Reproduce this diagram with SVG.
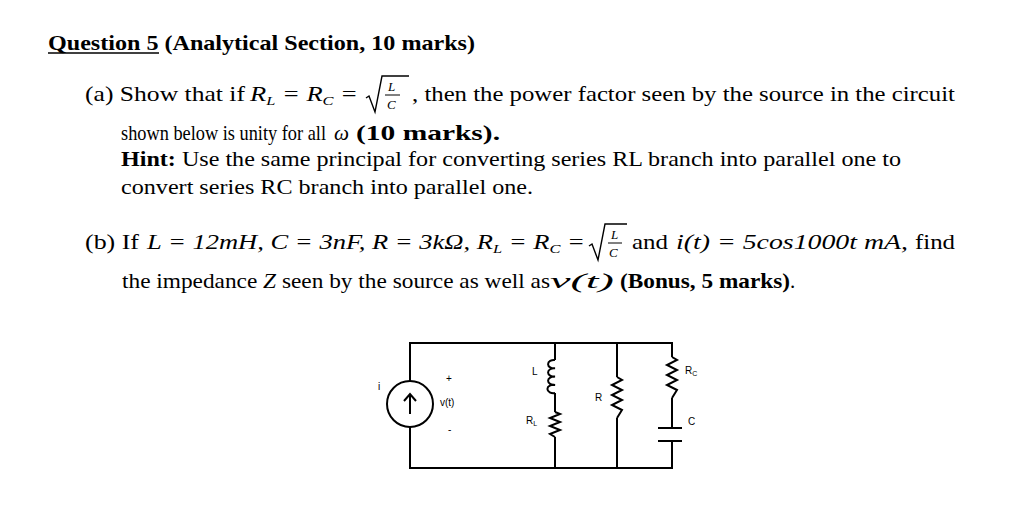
<svg xmlns="http://www.w3.org/2000/svg" width="1024" height="512" viewBox="0 0 1024 512">
<style>
text{font-family:"Liberation Serif","Times New Roman",serif;font-size:21px;fill:#000}
.b{font-weight:bold}
.i{font-style:italic}
.m{font-family:"Liberation Serif",serif;font-style:italic;font-size:21px}
.sm{font-size:13px}
.lab{font-family:"Liberation Sans",Arial,sans-serif;font-size:10px}
.w{fill:none;stroke:#000;stroke-width:2}
.s{fill:none;stroke:#000;stroke-width:1.4}
</style>
<rect width="1024" height="512" fill="#fff"/>
<g id="text">
<text x="48" y="50" class="b" textLength="427" lengthAdjust="spacingAndGlyphs">Question 5 (Analytical Section, 10 marks)</text>
<line x1="48" y1="53" x2="159" y2="53" stroke="#000" stroke-width="1.5"/>
<text x="85" y="101" textLength="160" lengthAdjust="spacingAndGlyphs">(a) Show that if</text>
<text x="250" y="101" class="m" textLength="108" lengthAdjust="spacingAndGlyphs">R<tspan class="sm" dy="4">L</tspan><tspan dy="-4"> = R</tspan><tspan class="sm" dy="4">C</tspan><tspan dy="-4"> =</tspan></text>
<path class="s" d="M366,98 l3,-2 l6,16 l7,-36 h27"/>
<text x="388" y="91" class="sm i">L</text>
<line x1="385" y1="95" x2="400" y2="95" stroke="#000"/>
<text x="387" y="109" class="sm i">C</text>
<text x="412" y="101" textLength="543" lengthAdjust="spacingAndGlyphs">, then the power factor seen by the source in the circuit</text>
<text x="121" y="140" textLength="205" lengthAdjust="spacingAndGlyphs">shown below is unity for all</text>
<text x="334" y="140" class="i" textLength="15" lengthAdjust="spacingAndGlyphs">ω</text>
<text x="356" y="140" class="b" textLength="144" lengthAdjust="spacingAndGlyphs">(10 marks).</text>
<text x="121" y="166" textLength="780" lengthAdjust="spacingAndGlyphs"><tspan class="b">Hint:</tspan> Use the same principal for converting series RL branch into parallel one to</text>
<text x="121" y="194" textLength="412" lengthAdjust="spacingAndGlyphs">convert series RC branch into parallel one.</text>
<text x="85" y="249" textLength="54" lengthAdjust="spacingAndGlyphs">(b) If</text>
<text x="147" y="249" class="m" textLength="438" lengthAdjust="spacingAndGlyphs">L = 12mH, C = 3nF, R = 3kΩ, R<tspan class="sm" dy="4">L</tspan><tspan dy="-4"> = R</tspan><tspan class="sm" dy="4">C</tspan><tspan dy="-4"> =</tspan></text>
<path class="s" d="M589,246 l3,-2 l6,16 l7,-36 h22"/>
<text x="611" y="239" class="sm i">L</text>
<line x1="608" y1="243" x2="622" y2="243" stroke="#000"/>
<text x="609" y="257" class="sm i">C</text>
<text x="632" y="249" textLength="36" lengthAdjust="spacingAndGlyphs">and</text>
<text x="676" y="249" class="m" textLength="232" lengthAdjust="spacingAndGlyphs">i(t) = 5cos1000t mA,</text>
<text x="915" y="249" textLength="40" lengthAdjust="spacingAndGlyphs">find</text>
<text x="122" y="288" textLength="428" lengthAdjust="spacingAndGlyphs">the impedance <tspan class="i">Z</tspan> seen by the source as well as</text>
<text x="550" y="288" class="m" textLength="64" lengthAdjust="spacingAndGlyphs">v(t)</text>
<text x="620" y="288" class="b" textLength="170" lengthAdjust="spacingAndGlyphs">(Bonus, 5 marks)</text>
<text x="790" y="288">.</text>
</g>
<g id="connectors">
<path class="w" d="M410,381 V343 H672 V357 M410,427 V468 H672 V441 M555,343 V360 M555,393 V412 M555,437 V468 M617,343 V377 M617,418 V468 M672,398 V428"/>
</g>
<g id="source">
<circle cx="410" cy="404" r="23" class="w"/>
<path class="w" d="M410,414 V395 M404,401 L410,394 L416,401"/>
<text x="378" y="390" class="lab">i</text>
</g>
<g id="inductor"><path class="w" d="M555,360 a6,4.2 0 1,0 0,8.3 a6,4.2 0 1,0 0,8.3 a6,4.2 0 1,0 0,8.3 a6,4.2 0 1,0 0,8.1"/><text x="532" y="375" class="lab">L</text></g>
<g id="RL"><path class="w" d="M555,412 l5,2 l-10,4 l10,4 l-10,4 l10,4 l-10,4 l5,3"/><text x="526" y="424" class="lab">R<tspan font-size="7" dy="2">L</tspan></text></g>
<g id="R"><path class="w" d="M617,377 l5,3 l-10,5 l10,5 l-10,5 l10,5 l-10,5 l10,5 l-5,8"/><text x="595" y="401" class="lab">R</text></g>
<g id="Rc"><path class="w" d="M672,357 l5,3 l-10,5 l10,5 l-10,5 l10,5 l-10,5 l10,5 l-5,8"/><text x="685" y="374" class="lab">R<tspan font-size="7" dy="2">C</tspan></text></g>
<g id="Cap"><path class="w" d="M658,428 H682 M658,441 H682"/><text x="688" y="425" class="lab">C</text></g>
<g id="vlabels"><text x="446" y="382" class="lab">+</text><text x="440" y="406" class="lab">v(t)</text><text x="448" y="433" class="lab">-</text></g>
</svg>
